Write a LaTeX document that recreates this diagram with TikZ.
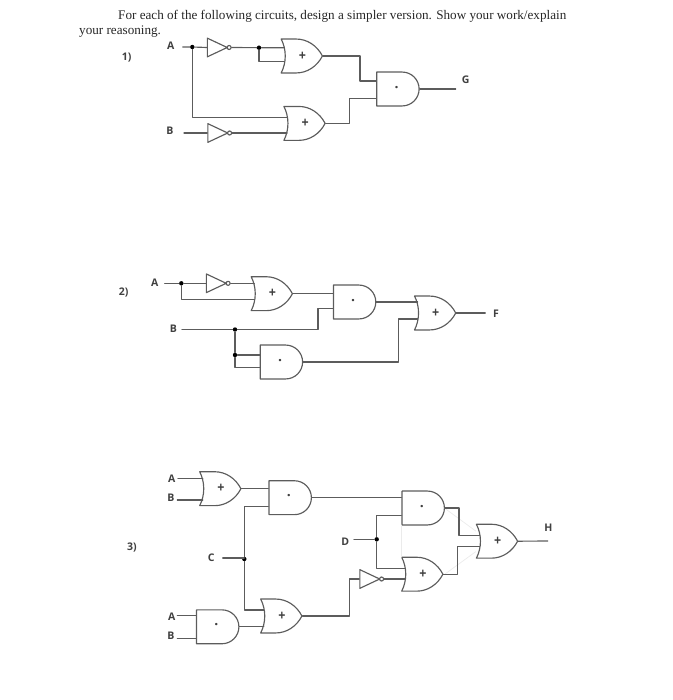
\documentclass[tikz,border=0pt]{standalone}
\usepackage{fontspec}
\setmainfont{Liberation Serif}
\newfontfamily\labelfont{Open Sans}
\usetikzlibrary{shapes.gates.logic.US}
\colorlet{wirecol}{black!64}
\def\plussign{\hspace*{8pt}+}

\begin{document}
\begin{tikzpicture}[x=1pt, y=-1pt, line cap=round, line join=round,
	wire/.style={wirecol, line width=1.15pt},
	faint/.style={black!8, line width=0.7pt},
	gate/.style={draw=wirecol, line width=1.15pt, inner sep=0pt, font=\labelfont\bfseries\fontsize{14}{14}\selectfont, text=black!75},
	orgate/.style={gate, or gate US, logic gate input sep=11.3pt, xscale=0.89, transform shape},
	andgate/.style={gate, and gate US, logic gate input sep=11.3pt},
	notgate/.style={gate, not gate US, logic gate input sep=8pt, logic gate inverted radius=2pt},
	junction/.style={circle, fill=black, inner sep=0pt, minimum size=4.4pt},
	lbl/.style={inner sep=0pt, font=\labelfont\bfseries\fontsize{10.5}{11}\selectfont, text=black!75},
	para/.style={inner sep=0pt, anchor=base west, font=\fontsize{13.15}{15}\selectfont, text=black!85}]
	
	\useasboundingbox (0,0) rectangle (672,700);
	
	\node [para] (line1) at (118,20) {For each of the following circuits, design a simpler version. Show your work/explain};
	\node [para] (line2) at (79,35) {your reasoning.};
	
	\begin{scope}
	\node [lbl] (num1) at (126.7,58) {1)};
	\node [lbl] (A1) at (170.7,46) {A};
	\node [lbl] (B1) at (170,131) {B};
	\node [lbl] (G) at (465.7,80) {G};
	\coordinate (A1w) at (182.7,47);
	\coordinate (B1w) at (184,133);
	\coordinate (Gw) at (455.7,89);
	
	\node [notgate] (inv1) at (214,47.5) {};
	\node [notgate] (inv2) at (214.5,133) {};
	\node [orgate] (or1) at (298.8,56) {\plussign};
	\node [orgate] (or2) at (301.5,123.4) {\plussign};
	\node [andgate] (and1) at (396.5,89) {\textperiodcentered};
	\node [junction] (j1) at (192.3,47) {};
	\node [junction] (j2) at (259,47.7) {};
	
	\draw [wire] (A1w) -- (j1) -- (inv1.input);
	\draw [wire] (inv1.output) -- (j2) -- (j2 -| or1.input 1);
	\draw [wire] (j2) |- (or1.input 2);
	\draw [wire] (j1) |- (or2.input 1);
	\draw [wire] (B1w) -- (inv2.input);
	\draw [wire] (inv2.output) -- (inv2.output -| or2.input 2);
	\draw [wire] (or1.output) -- ++(37,0) |- (and1.west |- 0,81);
	\draw [wire] (or2.output) -- ++(24,0) |- (and1.west |- 0,98.7);
	\draw [wire] (and1.output) -- (Gw);
	\end{scope}
	
	\begin{scope}
	\node [lbl] (num2) at (123.7,292.7) {2)};
	\node [lbl] (A2) at (154.7,282.3) {A};
	\node [lbl] (B2) at (173.3,328.3) {B};
	\node [lbl] (F) at (496,313.3) {F};
	\coordinate (A2w) at (164.7,283.3);
	\coordinate (B2w) at (182,329.5);
	\coordinate (Fw) at (485.3,313);
	
	\node [notgate] (inv3) at (213,283.3) {};
	\node [orgate] (or3) at (268.8,293.7) {\plussign};
	\node [andgate] (and2) at (353.2,302) {\textperiodcentered};
	\node [andgate] (and3) at (280,362) {\textperiodcentered};
	\node [orgate] (or4) at (432.1,313) {\plussign};
	\node [junction] (j3) at (181.3,283.3) {};
	\node [junction] (j4) at (235,329.5) {};
	\node [junction] (j5) at (235,355) {};
	
	\draw [wire] (A2w) -- (j3) -- (inv3.input);
	\draw [wire] (inv3.output) -- (inv3.output -| or3.input 1);
	\draw [wire] (j3) |- (or3.input 2);
	\draw [wire] (or3.output) -- (or3.output -| and2.west);
	\draw [wire] (B2w) -- (j4) -- ++(83,0) |- (and2.west |- 0,308.7);
	\draw [wire] (j4) -- (j5) |- (and3.input 2);
	\draw [wire] (j5) -- (j5 -| and3.west);
	\draw [wire] (and2.output) -- (and2.output -| or4.input 1);
	\draw [wire] (and3.output) -| (398.7,319) -- (398.7,319 -| or4.input 2);
	\draw [wire] (or4.output) -- (Fw);
	\end{scope}
	
	\begin{scope}
	\node [lbl] (num3) at (132,547.3) {3)};
	\node [lbl] (A3) at (171.7,478.3) {A};
	\node [lbl] (B3) at (171,497.3) {B};
	\node [lbl] (C) at (211.3,557.3) {C};
	\node [lbl] (A4) at (171.7,616.7) {A};
	\node [lbl] (B4) at (171,635.7) {B};
	\node [lbl] (D) at (345.3,541.5) {D};
	\node [lbl] (H) at (548.3,527.3) {H};
	\coordinate (A3w) at (178,478.3);
	\coordinate (B3w) at (177.3,500);
	\coordinate (Cw) at (222.7,558);
	\coordinate (A4w) at (177.3,615.7);
	\coordinate (B4w) at (177.3,638.3);
	\coordinate (Dw) at (354,539.3);
	\coordinate (Hw) at (547.7,541);
	
	\node [orgate] (or5) at (217.3,488.7) {\plussign};
	\node [andgate] (and4) at (288.8,497.7) {\textperiodcentered};
	\node [andgate] (and5) at (216.3,626.8) {\textperiodcentered};
	\node [orgate] (or6) at (278.3,616) {\plussign};
	\node [notgate] (inv4) at (366.5,579) {};
	\node [andgate] (and6) at (421.8,508) {\textperiodcentered};
	\node [orgate] (or7) at (419.3,574.2) {\plussign};
	\node [orgate] (or8) at (494,541.2) {\plussign};
	\node [junction] (j6) at (244.3,559) {};
	\node [junction] (j7) at (376.7,539.3) {};
	
	\draw [faint] (401,525) -- (401,557.3);
	\draw [faint] (445,508.5) -- (475.7,531);
	\draw [faint] (445,574) -- (475.7,551.7);
	
	\draw [wire] (A3w) -- (A3w -| or5.input 1);
	\draw [wire] (B3w) -- (B3w -| or5.input 2);
	\draw [wire] (or5.output) -- (or5.output -| and4.west);
	\draw [wire] (and4.west |- 0,506.7) -| (j6) |- (or6.input 1 |- 0,610);
	\draw [wire] (Cw) -- (Cw -| j6);
	\draw [wire] (A4w) -- (A4w -| and5.west);
	\draw [wire] (B4w) -- (B4w -| and5.west);
	\draw [wire] (and5.output) -- (and5.output -| or6.input 2);
	\draw [wire] (or6.output) -- ++(46.6,0) |- (inv4.input);
	\draw [wire] (inv4.output) -- (inv4.output -| or7.input 2);
	\draw [wire] (and4.output) -- (and4.output -| and6.west);
	\draw [wire] (Dw) -- (j7);
	\draw [wire] (j7) |- (and6.west |- 0,515.7);
	\draw [wire] (j7) |- (or7.input 1);
	\draw [wire] (and6.output) -- ++(14,0) |- (or8.input 1);
	\draw [wire] (or7.output) -- ++(14,0) |- (or8.input 2);
	\draw [wire] (or8.output) -- (Hw);
	\end{scope}
	
\end{tikzpicture}
\end{document}
